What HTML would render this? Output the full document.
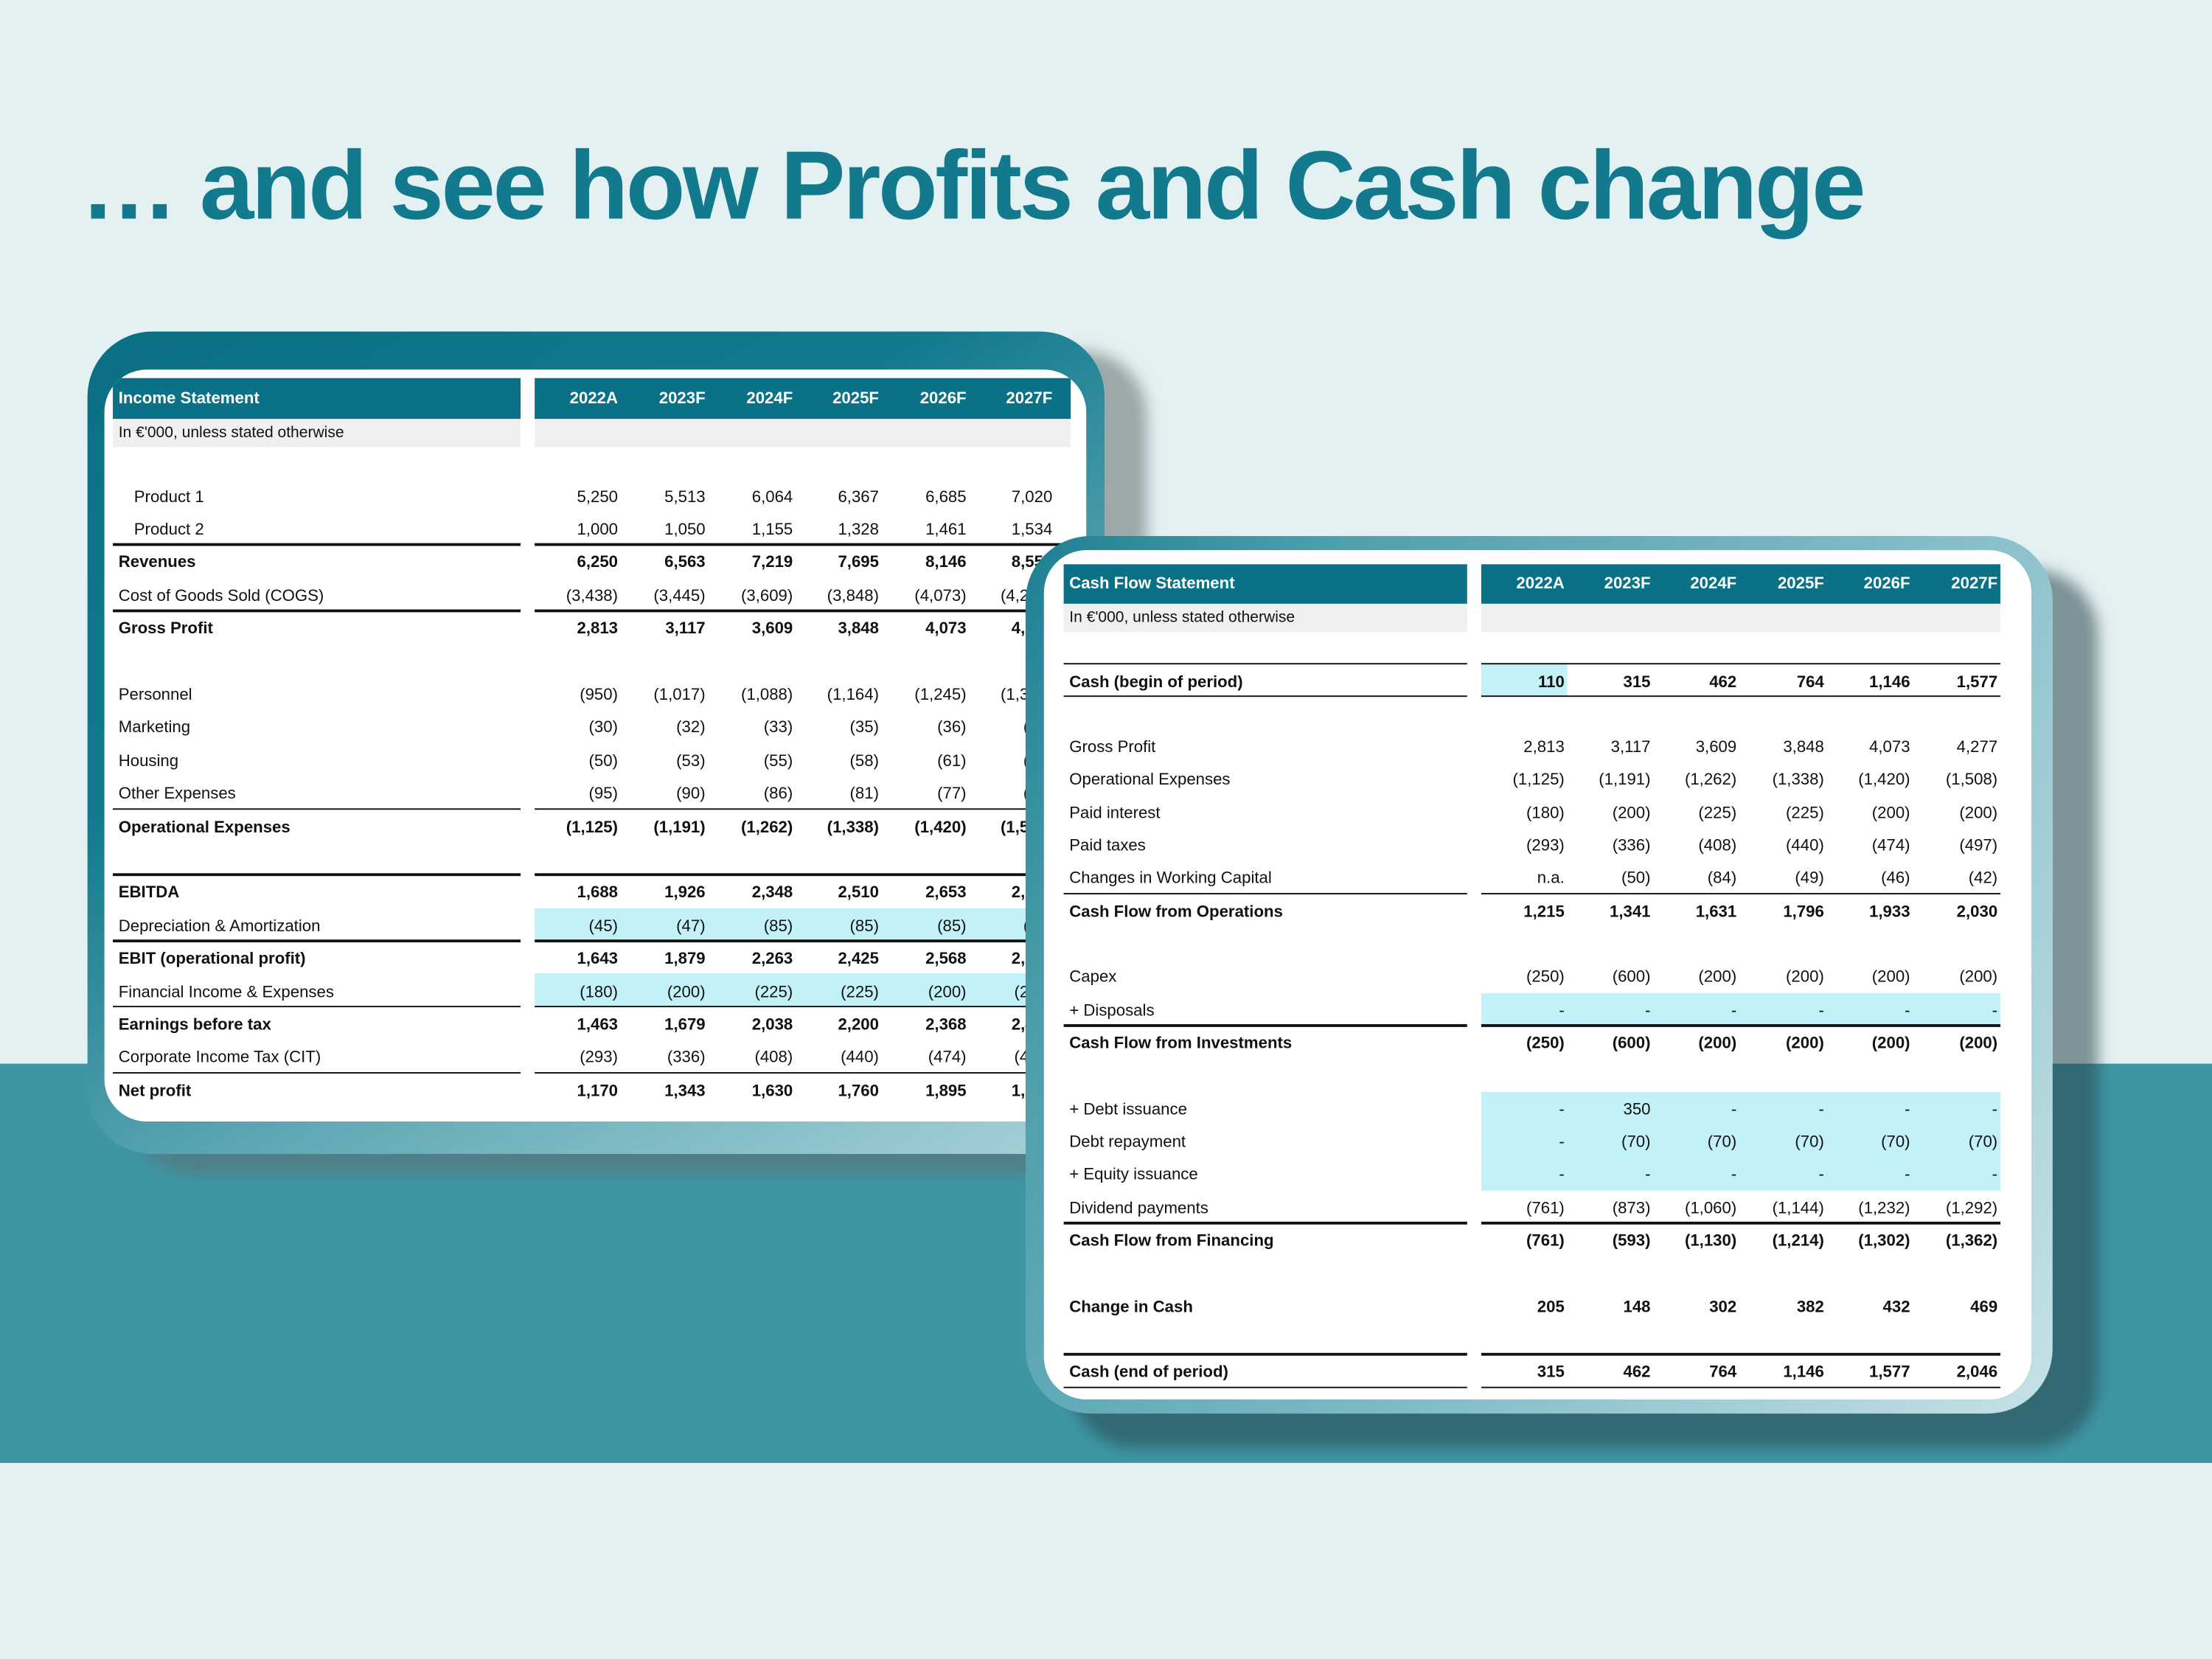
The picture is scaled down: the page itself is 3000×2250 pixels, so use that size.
<!DOCTYPE html>
<html><head><meta charset="utf-8">
<style>
html,body{margin:0;padding:0;}
body{width:3000px;height:2250px;overflow:hidden;background:#e4f1f3;font-family:"Liberation Sans",Arial,sans-serif;}
#stage{position:absolute;left:0;top:0;width:1568px;height:1176px;transform:scale(1.913265);transform-origin:0 0;}
.band{position:absolute;left:0;top:754px;width:1568px;height:283px;background:#3e96a5;}
.title{position:absolute;left:57px;top:97px;font-size:69px;line-height:69px;font-weight:bold;color:#127a8c;white-space:nowrap;letter-spacing:-1.8px;}
.frame{position:absolute;border-radius:46px;}
.inner{position:absolute;background:#fff;border-radius:30px;overflow:hidden;}
.row{position:absolute;height:23.4px;line-height:23.4px;font-size:11.6px;color:#111;white-space:nowrap;}
.cell{position:absolute;text-align:right;}
.lbl{position:absolute;}
.hdr{background:#0a7187;color:#fff;font-weight:bold;}
.sub{background:#f0f0f0;}
.hl{position:absolute;background:#c2f1f7;}
.ln{position:absolute;height:1.5px;background:#111;}
</style></head>
<body>
<div id="stage">
  <div class="band"></div>
  <div class="title">… and see how Profits and Cash change</div>

  <div class="frame" style="left:62px;top:235px;width:721px;height:583px;background:linear-gradient(150deg,#0a6f83 0%,#137a8d 35%,#5ea8b5 65%,#a9d2d9 100%);box-shadow:30px 14px 10px rgba(95,110,112,0.55);"></div>
  <div class="inner" id="isCard" style="left:74px;top:262px;width:696px;height:533px;"></div>

  <div class="frame" style="left:727px;top:380px;width:728px;height:622px;background:linear-gradient(120deg,#1d7f92 0%,#4e9fad 20%,#7cb9c4 55%,#c6e2e6 100%);box-shadow:32px 24px 10px rgba(40,70,75,0.55);"></div>
  <div class="inner" id="cfCard" style="left:740px;top:390px;width:700px;height:602px;"></div>
</div>
<script>
const isYears=['2022A','2023F','2024F','2025F','2026F','2027F'];
const isLabels=['Product 1','Product 2','Revenues','Cost of Goods Sold (COGS)','Gross Profit','','Personnel','Marketing','Housing','Other Expenses','Operational Expenses','','EBITDA','Depreciation & Amortization','EBIT (operational profit)','Financial Income & Expenses','Earnings before tax','Corporate Income Tax (CIT)','Net profit'];
const isValues=[
['5,250','5,513','6,064','6,367','6,685','7,020'],
['1,000','1,050','1,155','1,328','1,461','1,534'],
['6,250','6,563','7,219','7,695','8,146','8,554'],
['(3,438)','(3,445)','(3,609)','(3,848)','(4,073)','(4,277)'],
['2,813','3,117','3,609','3,848','4,073','4,277'],
[],
['(950)','(1,017)','(1,088)','(1,164)','(1,245)','(1,332)'],
['(30)','(32)','(33)','(35)','(36)','(38)'],
['(50)','(53)','(55)','(58)','(61)','(64)'],
['(95)','(90)','(86)','(81)','(77)','(73)'],
['(1,125)','(1,191)','(1,262)','(1,338)','(1,420)','(1,508)'],
[],
['1,688','1,926','2,348','2,510','2,653','2,769'],
['(45)','(47)','(85)','(85)','(85)','(85)'],
['1,643','1,879','2,263','2,425','2,568','2,684'],
['(180)','(200)','(225)','(225)','(200)','(200)'],
['1,463','1,679','2,038','2,200','2,368','2,484'],
['(293)','(336)','(408)','(440)','(474)','(497)'],
['1,170','1,343','1,630','1,760','1,895','1,987']];
const isBold=[2,4,10,12,14,16,18];
const isIndent=[0,1];
const isLineAbove=[2,4,10,12,14,16,18];
const isHighlight=[13,15];

const cfLabels=['Cash (begin of period)','','Gross Profit','Operational Expenses','Paid interest','Paid taxes','Changes in Working Capital','Cash Flow from Operations','','Capex','+ Disposals','Cash Flow from Investments','','+ Debt issuance','Debt repayment','+ Equity issuance','Dividend payments','Cash Flow from Financing','','Change in Cash','','Cash (end of period)'];
const cfValues=[
['110','315','462','764','1,146','1,577'],
[],
['2,813','3,117','3,609','3,848','4,073','4,277'],
['(1,125)','(1,191)','(1,262)','(1,338)','(1,420)','(1,508)'],
['(180)','(200)','(225)','(225)','(200)','(200)'],
['(293)','(336)','(408)','(440)','(474)','(497)'],
['n.a.','(50)','(84)','(49)','(46)','(42)'],
['1,215','1,341','1,631','1,796','1,933','2,030'],
[],
['(250)','(600)','(200)','(200)','(200)','(200)'],
['-','-','-','-','-','-'],
['(250)','(600)','(200)','(200)','(200)','(200)'],
[],
['-','350','-','-','-','-'],
['-','(70)','(70)','(70)','(70)','(70)'],
['-','-','-','-','-','-'],
['(761)','(873)','(1,060)','(1,144)','(1,232)','(1,292)'],
['(761)','(593)','(1,130)','(1,214)','(1,302)','(1,362)'],
[],
['205','148','302','382','432','469'],
[],
['315','462','764','1,146','1,577','2,046']];
const cfBold=[0,7,11,17,19,21];
const cfLineAbove=[0,7,11,17,21];
const cfLineBelow=[0,21];
const cfHighlight=[10,13,14,15];

function build(card, o){
  const hdr=document.createElement('div');
  hdr.className='row hdr';
  hdr.style.cssText=`left:${o.lx}px;top:${o.hy}px;width:${o.lw}px;height:${o.hh}px;line-height:${o.hh}px;`;
  
  
  const ht=document.createElement('span');ht.style.marginLeft='4px';ht.textContent=o.title;hdr.appendChild(ht);
  card.appendChild(hdr);
  const hdr2=document.createElement('div');
  hdr2.className='row hdr';
  hdr2.style.cssText=`left:${o.dx}px;top:${o.hy}px;width:${o.dw}px;height:${o.hh}px;line-height:${o.hh}px;`;
  
  
  o.years.forEach((y,j)=>{
    const c=document.createElement('span');c.className='cell';
    c.style.right=(o.dw-o.cols[j])+'px';c.textContent=y;
    
    
    hdr2.appendChild(c);
  });
  card.appendChild(hdr2);
  const s1=document.createElement('div');s1.className='row sub';
  s1.style.cssText=`left:${o.lx}px;top:${o.hy+o.hh}px;width:${o.lw}px;height:20px;line-height:21px;font-size:11px;`;
  
  
  const st=document.createElement('span');st.style.marginLeft='4px';st.textContent='In €\'000, unless stated otherwise';s1.appendChild(st);
  card.appendChild(s1);
  const s2=document.createElement('div');s2.className='row sub';
  s2.style.cssText=`left:${o.dx}px;top:${o.hy+o.hh}px;width:${o.dw}px;height:20px;`;
  
  
  card.appendChild(s2);
  o.labels.forEach((lab,i)=>{
    const top=o.r0+i*o.rh;
    if(o.hl.includes(i)){
      const h=document.createElement('div');h.className='hl';
      h.style.cssText=`left:${o.dx}px;top:${top}px;width:${o.dw}px;height:${o.rh}px;`;
      
      
      card.appendChild(h);
    }
    if(o.hlCell && o.hlCell[0]===i){
      const h=document.createElement('div');h.className='hl';
      h.style.cssText=`left:${o.dx}px;top:${top}px;width:${o.cols[0]+2}px;height:${o.rh}px;`;
      
      
      card.appendChild(h);
    }
    [[o.la,top],[o.lb,top+o.rh]].forEach(([arr,y])=>{
      if(arr.includes(i)){
        [[o.lx,o.lw],[o.dx,o.dw]].forEach(([x,w])=>{
          const l=document.createElement('div');l.className='ln';
          l.style.cssText=`left:${x}px;top:${y-0.75}px;width:${w}px;`;
          
          
          card.appendChild(l);
        });
      }
    });
    if(!lab) return;
    const r=document.createElement('div');r.className='row';
    r.style.cssText=`left:0;top:${top+1.2}px;width:100%;`+(o.bold.includes(i)?'font-weight:bold;':'');
    
    
    const l=document.createElement('span');l.className='lbl';
    l.style.left=(o.lx+4+(o.ind.includes(i)?11:0))+'px';l.textContent=lab;
    r.appendChild(l);
    (o.vals[i]||[]).forEach((v,j)=>{
      const c=document.createElement('span');c.className='cell';
      c.style.left=(o.dx+o.cols[j]-60)+'px';c.style.width='60px';c.textContent=v;
      
      
      r.appendChild(c);
    });
    card.appendChild(r);
  });
}
build(document.getElementById('isCard'),{
  title:'Income Statement',years:isYears,labels:isLabels,vals:isValues,bold:isBold,ind:isIndent,
  la:isLineAbove,lb:[],hl:isHighlight,
  lx:6,lw:289,dx:305,dw:380,hy:6,hh:29,
  cols:[59,121,183,244,306,367],r0:77.3,rh:23.4
});
build(document.getElementById('cfCard'),{
  title:'Cash Flow Statement',years:isYears,labels:cfLabels,vals:cfValues,bold:cfBold,ind:[],
  la:cfLineAbove,lb:cfLineBelow,hl:cfHighlight,hlCell:[0],
  lx:14,lw:286,dx:310,dw:368,hy:10,hh:28,
  cols:[59,120,181,243,304,366],r0:80.3,rh:23.33
});
</script>
</body></html>
